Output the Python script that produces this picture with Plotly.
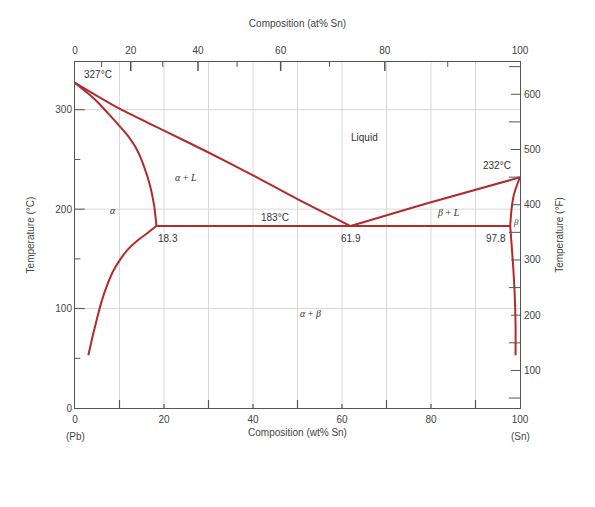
import plotly.graph_objects as go
import numpy as np

liq_l_x = [0, 10, 20, 30, 40, 50, 61.9]
liq_l_y = [327, 301, 279, 257, 234, 210, 183]
sol_a_x = [0, 2.5, 5, 7.5, 10.1, 12.2, 13.9, 15.5, 16.9, 17.8, 18.3]
sol_a_y = [327, 318, 308, 296, 283, 272, 260, 243, 223, 203, 183]
solv_a_x = [18.3, 16, 13.9, 12, 10.1, 8.5, 7.1, 5.9, 4.9, 3.9, 3.0]
solv_a_y = [183, 175, 168, 160, 149, 137, 122, 106, 89, 71, 53]
liq_r_x = [61.9, 80, 100]
liq_r_y = [183, 207, 232]
sol_b_x = [100, 99.3, 98.6, 98.1, 97.8]
sol_b_y = [232, 224, 214, 200, 183]
solv_b_x = [97.8, 98.1, 98.5, 98.8, 99.0, 99.0]
solv_b_y = [183, 165, 140, 115, 85, 53]
eut_x = [18.3, 97.8]
eut_y = [183, 183]
at_ticks = [0, 20, 40, 60, 80, 100]
at_minor = [10, 30, 50, 70, 90]
f_ticks = [100, 200, 300, 400, 500, 600]
f_minor = [50, 150, 250, 350, 450, 550, 650]

def at2wt(a):
    a = np.asarray(a, float)
    return 100 * a * 118.71 / (a * 118.71 + (100 - a) * 207.2)

RED = '#b22a2a'
YMAX = 348
fig = go.Figure()
for xs, ys in [(liq_l_x, liq_l_y), (sol_a_x, sol_a_y), (solv_a_x, solv_a_y),
               (liq_r_x, liq_r_y), (sol_b_x, sol_b_y), (solv_b_x, solv_b_y), (eut_x, eut_y)]:
    fig.add_trace(go.Scatter(x=xs, y=ys, mode='lines', line=dict(color=RED, width=2, shape='spline', smoothing=0.8),
                             showlegend=False, hoverinfo='skip'))

F = dict(family='Liberation Sans, Arial', size=10, color='#444')
fig.update_layout(
    width=595, height=507, margin=dict(l=67, r=83, t=54, b=107),
    plot_bgcolor='white', paper_bgcolor='white', font=F, showlegend=False,
    xaxis=dict(range=[0, 100], tickvals=[0, 20, 40, 60, 80, 100], showgrid=False, automargin=False,
               showline=True, linecolor='#555', ticks='outside', ticklen=2, tickcolor='white',
               title=dict(text='Composition (wt% Sn)', font=dict(size=10), standoff=4), zeroline=False),
    xaxis2=dict(range=[0, 100], overlaying='x', side='top', tickvals=list(at2wt(at_ticks)), automargin=False,
                ticktext=[str(t) for t in at_ticks], showgrid=False, showline=True, linecolor='#555',
                ticks='outside', ticklen=3, tickcolor='white',
                title=dict(text='Composition (at% Sn)', font=dict(size=10)), zeroline=False),
    yaxis=dict(range=[0, YMAX], tickvals=[0, 100, 200, 300], showgrid=False, showline=True, automargin=False,
               linecolor='#555', ticks='', zeroline=False,
               title=dict(text='Temperature (°C)', font=dict(size=10), standoff=18)),
    yaxis2=dict(range=[32, YMAX * 1.8 + 32], overlaying='y', side='right', tickvals=f_ticks, automargin=False,
                showgrid=False, showline=True, linecolor='#555', ticks='outside', ticklen=1,
                tickcolor='white', zeroline=False,
                title=dict(text='Temperature (°F)', font=dict(size=10))),
)
fig.add_trace(go.Scatter(x=[None], y=[None], xaxis='x2', yaxis='y2', showlegend=False))
shapes = []
for g in range(10, 100, 10):
    shapes.append(dict(type='line', xref='x', yref='y', x0=g, x1=g, y0=0, y1=YMAX, line=dict(color='#d8d8d8', width=1), layer='below'))
for g in [100, 200, 300]:
    shapes.append(dict(type='line', xref='x', yref='y', x0=0, x1=100, y0=g, y1=g, line=dict(color='#d8d8d8', width=1), layer='below'))
    shapes.append(dict(type='line', xref='x', yref='y', x0=0, x1=2.2, y0=g, y1=g, line=dict(color='#555', width=1)))
for g in [50, 150, 250]:
    shapes.append(dict(type='line', xref='x', yref='y', x0=0, x1=1.2, y0=g, y1=g, line=dict(color='#555', width=1)))
for g in range(10, 100, 10):
    L = 8 if g % 20 else 4
    shapes.append(dict(type='line', xref='x', yref='y', x0=g, x1=g, y0=0, y1=L, line=dict(color='#555', width=1.2)))
for a in at_ticks[1:-1]:
    w = float(at2wt(a))
    shapes.append(dict(type='line', xref='x', yref='y', x0=w, x1=w, y0=YMAX, y1=YMAX - 9, line=dict(color='#555', width=1.5)))
for a in at_minor:
    w = float(at2wt(a))
    shapes.append(dict(type='line', xref='x', yref='y', x0=w, x1=w, y0=YMAX, y1=YMAX - 5, line=dict(color='#555', width=1)))
for f in f_minor:
    c = (f - 32) / 1.8
    shapes.append(dict(type='line', xref='x', yref='y', x0=100, x1=97.5, y0=c, y1=c, line=dict(color='#555', width=1)))
for f in f_ticks:
    c = (f - 32) / 1.8
    shapes.append(dict(type='line', xref='x', yref='y', x0=98, x1=101, y0=c, y1=c, line=dict(color='#555', width=1)))
fig.update_layout(shapes=shapes)

def ann(x, y, t, italic=False, size=10, **k):
    fam = 'Liberation Serif, Times New Roman' if italic else 'Liberation Sans, Arial'
    fig.add_annotation(x=x, y=y, text=t, showarrow=False, font=dict(family=fam, size=size, color='#333'), **k)

ann(1.5, 335, '327°C', xanchor='left')
ann(98.5, 244, '232°C', xanchor='right')
ann(45, 192, '183°C')
ann(21, 170, '18.3')
ann(62, 170, '61.9')
ann(94.5, 170, '97.8')
ann(65, 272, 'Liquid')
ann(25, 232, '<i>α</i> + <i>L</i>', italic=True)
ann(8.5, 199, '<i>α</i>', italic=True)
ann(84, 197, '<i>β</i> + <i>L</i>', italic=True)
ann(99, 187, '<i>β</i>', italic=True, size=9)
ann(53, 95, '<i>α</i> + <i>β</i>', italic=True)
fig.add_annotation(x=0, y=-0.105, xref='x', yref='paper', text='(Pb)', showarrow=False, font=F)
fig.add_annotation(x=100, y=-0.105, xref='x', yref='paper', text='(Sn)', showarrow=False, font=F)
fig.write_html('out.html')
